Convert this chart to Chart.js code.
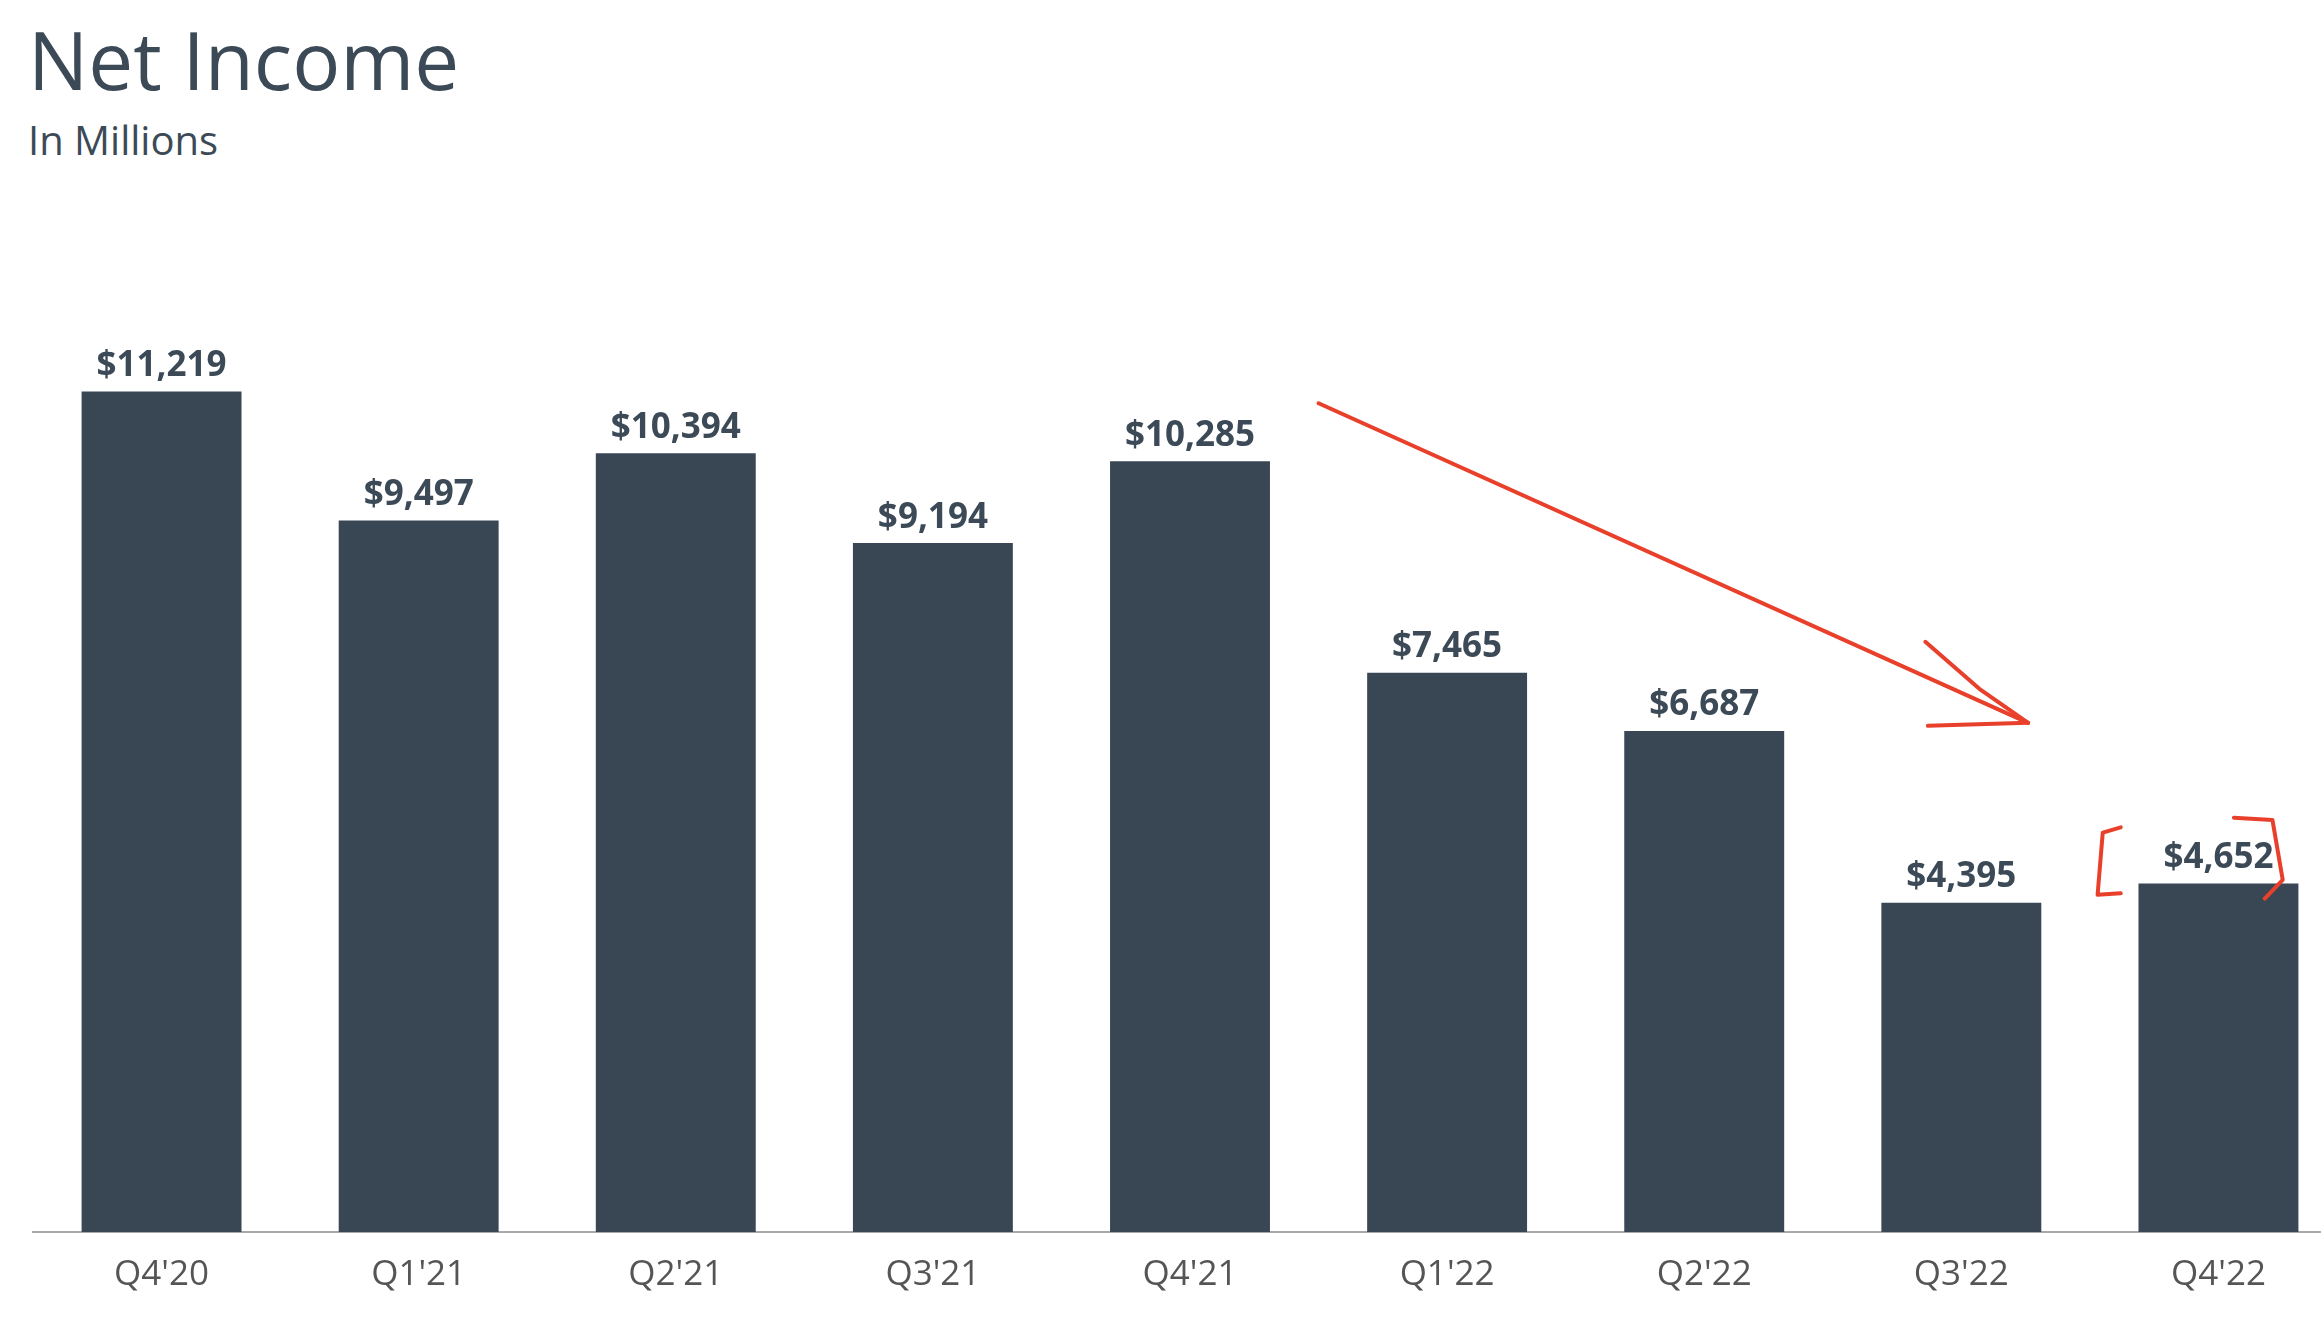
<!DOCTYPE html>
<html><head><meta charset="utf-8">
<script src="https://cdn.jsdelivr.net/npm/chart.js@4"></script>
<style>
html,body{margin:0;padding:0;background:#fff;overflow:hidden;width:2321px;height:1339px;font-family:"Open Sans","Noto Sans",sans-serif;}
#t{position:absolute;left:28px;top:4px;font-size:80px;color:#3c4a57;}
#s{position:absolute;left:28px;top:112px;font-size:40px;color:#3c4a57;}
#w{position:absolute;left:0;top:183px;width:2347px;height:1156px;}
</style></head><body>
<div id="t">Net Income</div><div id="s">In Millions</div>
<div id="w"><canvas id="c"></canvas></div>
<script>
const categories=["Q4'20","Q1'21","Q2'21","Q3'21","Q4'21","Q1'22","Q2'22","Q3'22","Q4'22"];
const netIncome=[11219,9497,10394,9194,10285,7465,6687,4395,4652];
const labels=netIncome.map(v=>"$"+v.toLocaleString("en-US"));
const txt="#3c4a57";
const deco={id:'deco',afterDatasetsDraw(ch){
  const c=ch.ctx,x=ch.scales.x,y=ch.scales.y,m=ch.getDatasetMeta(0);
  c.save();c.fillStyle=txt;c.font='bold 35px "Open Sans"';c.textAlign='center';c.textBaseline='bottom';
  m.data.forEach((b,i)=>c.fillText(labels[i],b.x,b.y-8));
  const P=(i,v)=>[x.getPixelForValue(i),y.getPixelForValue(v)];
  c.strokeStyle='#e8402a';c.lineWidth=4;c.lineCap='round';c.lineJoin='round';
  const ln=pts=>{c.beginPath();pts.forEach((p,k)=>k?c.lineTo(...p):c.moveTo(...p));c.stroke();};
  ln([P(4.5,11061),P(7.26,6795)]);
  ln([P(6.86,7876),P(7.07,7250),P(7.26,6795),P(6.87,6755)]);
  ln([P(7.62,5400),P(7.55,5330),P(7.53,4500),P(7.62,4520)]);
  ln([P(8.06,5530),P(8.21,5500),P(8.25,4700),P(8.18,4450)]);
  c.restore();}};
new Chart(document.getElementById('c'),{type:'bar',
 data:{labels:categories,datasets:[{data:netIncome,backgroundColor:'#394755',categoryPercentage:1,barPercentage:0.622}]},
 options:{responsive:true,maintainAspectRatio:false,animation:false,
  layout:{padding:{left:33,right:0,top:0,bottom:0}},
  plugins:{legend:{display:false},tooltip:{enabled:false}},
  scales:{y:{display:false,min:0,max:14000},
   x:{afterFit:s=>{s.height=107;},grid:{display:false},border:{display:true,color:'#aaaaaa',width:2},
      ticks:{color:'#555',padding:14,font:{size:35,family:'"Open Sans"'}}}}},
 plugins:[deco]});
</script></body></html>
